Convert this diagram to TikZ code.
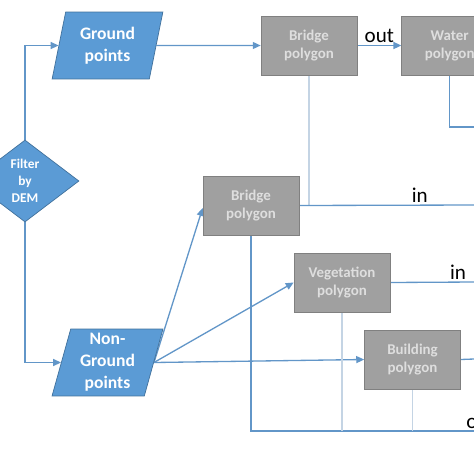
\documentclass[tikz,border=0pt]{standalone}
\usepackage{fontspec}
\setmainfont{Carlito}
\usepackage{tikz}
\usetikzlibrary{
    arrows.meta,
    positioning,
    shapes.geometric,
    backgrounds
}
\definecolor{flowBlue}{RGB}{91,155,213}
\definecolor{flowEdge}{RGB}{65,113,156}
\definecolor{boxGray}{RGB}{160,160,160}
\definecolor{boxEdge}{RGB}{128,128,128}
\definecolor{boxText}{RGB}{222,222,222}
\definecolor{lineBlue}{RGB}{98,150,200}
\definecolor{lineLight}{RGB}{196,212,228}
\tikzset{
  dataio/.style  = {trapezium, trapezium left angle=76.5,
                    trapezium right angle=103.5, trapezium stretches=true,
                    draw=flowEdge, fill=flowBlue, text=white, align=center,
                    minimum width=2.22cm, minimum height=1.34cm, inner sep=0pt,
                    font=\fontsize{10}{12.5}\selectfont\bfseries},
  pbox/.style    = {draw=boxEdge, fill=boxGray, text=boxText, align=center,
                    minimum width=1.92cm, minimum height=1.18cm,
                    font=\fontsize{8.5}{10.3}\selectfont\bfseries},
  arr/.style     = {-{Triangle[length=4.5pt, width=4pt]}, lineBlue,
                    line width=0.75pt},
  ln/.style      = {lineBlue, line width=0.75pt},
  lnl/.style     = {lineLight, line width=0.75pt},
  lbl/.style     = {text=black, font=\fontsize{12}{14}\selectfont,
                    inner sep=1pt}
}

\begin{document}
\begin{tikzpicture}[x=0.02cm, y=-0.02cm]
    \useasboundingbox (0,0) rectangle (474,474);
    \clip (0,0) rectangle (474,474);

    \node[diamond, draw=flowEdge, fill=flowBlue, text=white, align=center,
          minimum width=2.16cm, minimum height=1.64cm, inner sep=0pt,
          font=\fontsize{7.6}{9.6}\selectfont\bfseries] (filter) at (25,181)
          {Filter\\by\\DEM};

    \node[dataio] (gp)  at (107.5,45.5)  {Ground\\points};
    \node[dataio] (ngp) at (107.5,362.5) {Non-\\Ground\\points};

    \node[pbox] (bp1) at (309,45.5) {Bridge\\polygon};
    \node[pbox, right=0.88cm of bp1] (wp) {Water\\polygon};
    \node[pbox] (bp2) at (251,205.5) {Bridge\\polygon};
    \node[pbox] (vp)  at (342,282.5) {Vegetation\\polygon};
    \node[pbox] (bdp) at (412.5,359.5) {Building\\polygon};

    % free ends at the right edge
    \coordinate (eW) at (474,127);
    \coordinate (eB) at (474,205);
    \coordinate (eV) at (474,282);
    \coordinate (eD) at (474,359);
    \coordinate (eO) at (474,431);

    \begin{scope}[on background layer]
    \draw[arr] (filter.north) |- (gp.west);
    \draw[arr] (filter.south) |- (ngp.west);
    \draw[arr] (gp.east) -- (bp1.west);
    \draw[arr] (bp1.east) -- node[lbl, above] {out} (wp.west);
    \draw[ln] (wp.south) |- (eW);

    \draw[arr] (ngp.east) -- ([yshift=-0.05cm]bp2.west);
    \draw[arr] (ngp.east) -- (vp.west);
    \draw[arr] (ngp.east) -- (bdp.west);

    \draw[lnl] (bp1.south) -- (bp1.south |- eB);
    \draw[ln] (bp2.east) -- (eB) node[lbl, above, pos=0.69] {in};
    \draw[ln] (vp.east) -- (eV) node[lbl, above, pos=0.81] {in};
    \draw[ln] (bdp.east) -- (eD);
    \draw[ln] (bp2.south) |- (eO)
        node[lbl, above right, pos=0.975, xshift=0.02cm] {out};
    \draw[lnl] (vp.south) -- (vp.south |- eO);
    \draw[lnl] (bdp.south) -- (bdp.south |- eO);
    \end{scope}
\end{tikzpicture}
\end{document}
